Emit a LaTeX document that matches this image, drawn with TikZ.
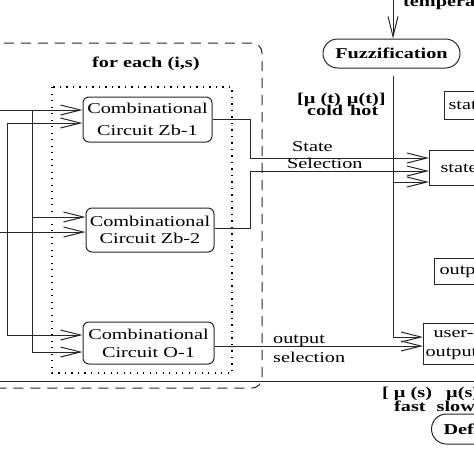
\documentclass[tikz,border=0pt]{standalone}
\usepackage{fontspec}
\setmainfont{Liberation Serif}[FakeStretch=1.35]
\usetikzlibrary{arrows.meta,calc}
\begin{document}
\begin{tikzpicture}[x=1pt,y=-1pt,
  ln/.style={line width=1pt, draw=black!85},
  arr/.style={ln, -{Straight Barb[length=20pt,width=10pt,line width=1pt]}},
  txt/.style={font=\fontsize{15}{18}\selectfont, inner sep=0pt},
  btxt/.style={font=\fontsize{15}{18}\selectfont\bfseries, inner sep=0pt},
  circ/.style={draw=black!85, line width=1pt, rounded corners=6pt, align=center, inner sep=0pt},
  sbox/.style={draw=black!85, line width=1pt, anchor=west, align=left, inner ysep=0pt, font=\fontsize{15}{19}\selectfont},
  pill/.style={draw=black!85, line width=1pt, font=\fontsize{15}{18}\selectfont\bfseries}]
\useasboundingbox (0,0) rectangle (474,474);
\clip (0,0) rectangle (474,474);

% frames
\draw[ln, dash pattern=on 10pt off 7pt, rounded corners=10pt] (-30,43) rectangle (262,388);
\draw[line width=1.3pt, dash pattern=on 1.3pt off 5.2pt] (52,87) rectangle (232,373);
\draw[ln] (-5,381) -- (480,381);

% circuit nodes
\node[circ, minimum width=129pt, minimum height=45pt, font=\fontsize{15}{22}\selectfont] (zb1) at (147.5,119.5) {Combinational\\Circuit Zb-1};
\node[circ, minimum width=128pt, minimum height=44pt, font=\fontsize{15}{17}\selectfont] (zb2) at (150,230) {Combinational\\Circuit Zb-2};
\node[circ, minimum width=131pt, minimum height=42pt, font=\fontsize{15}{18}\selectfont] (o1) at (148.5,343) {Combinational\\Circuit O-1};

% right side nodes
\node[pill, minimum width=137pt, minimum height=29pt, rounded corners=14.5pt, inner sep=0pt] (fuzz) at (391.5,53.5) {Fuzzification};
\node[pill, anchor=west, minimum height=30pt, rounded corners=15pt, inner xsep=12pt, inner ysep=0pt] (def) at (431,429) {Defuzzification};
\node[sbox, minimum height=28pt, inner xsep=4pt] (st1) at (444,105) {state-transition};
\node[sbox, minimum height=35pt, inner xsep=11pt] (st2) at (429,167.5) {state selection};
\node[sbox, minimum height=26pt, inner xsep=5pt] (outp) at (434,271) {output function};
\node[sbox, minimum height=41pt, inner xsep=2pt] (user) at (423,343.5) {\hspace*{8pt}user-defined\\output function};

% labels
\node[btxt, anchor=base west] (temp) at (403,6) {temperature};
\node[btxt, anchor=base west] (foreach) at (92,67) {for each (i,s)};
\node[txt, anchor=base west] (lstate) at (292,151) {State};
\node[txt, anchor=base west] (lsel) at (287,168) {Selection};
\node[txt, anchor=base west] (lout) at (273,343) {output};
\node[txt, anchor=base west] (lsel2) at (273,362) {selection};
\node[btxt, anchor=base west] (mut1) at (297,103) {[µ (t)\hspace{6pt}µ(t)]};
\node[btxt, anchor=base west] (mut2) at (307,115) {cold\hspace{7pt}hot};
\node[btxt, anchor=base west] (mus1) at (382,397) {[ µ (s)\hspace{14pt}µ(s)]};
\node[btxt, anchor=base west] (mus2) at (394,411) {fast\hspace{11pt}slow};

% coordinates
\coordinate (inA) at (-5,0);
\coordinate (busL) at (7,0);
\coordinate (busR) at (32,0);
\coordinate (bus) at (250,0);
\coordinate (tin) at (393,-5);
\coordinate (z1a) at ([yshift=9.5pt]zb1.west);
\coordinate (z1b) at ([yshift=-3.5pt]zb1.west);
\coordinate (z2a) at ([yshift=13pt]zb2.west);
\coordinate (z2b) at ([yshift=-2pt]zb2.west);
\coordinate (o1a) at ([yshift=8pt]o1.west);
\coordinate (o1b) at ([yshift=-9pt]o1.west);
\coordinate (s2a) at ([yshift=9.5pt]st2.west);
\coordinate (s2b) at ([yshift=-3.5pt]st2.west);
\coordinate (s2c) at ([yshift=-14.5pt]st2.west);
\coordinate (u1) at ([yshift=6.5pt]user.west);
\coordinate (u2) at ([yshift=-2.5pt]user.west);

% input connectors
\draw[arr] (z1a -| inA) -- (z1a);
\draw[arr] (z1a -| busR) |- (z2a);
\draw[arr] (z2a -| busR) |- (o1b);
\draw[arr] (z2b -| inA) -- (z2b);
\draw[arr] (z2b -| busL) |- (z1b);
\draw[arr] (z2b -| busL) |- (o1a);

% output connectors
\draw[arr] (zb1.east) -| (bus |- s2a) -- (s2a);
\draw[arr] ([yshift=2pt]zb2.east) -| (bus |- s2b) -- (s2b);
\draw[arr] (u2 -| o1.east) -- (u2);
\draw[arr] (tin) -- (tin |- fuzz.north);
\draw[arr, shorten <=7pt] (fuzz.south -| tin) |- (u1);
\draw[arr] (s2c -| tin) -- (s2c);
\end{tikzpicture}
\end{document}
